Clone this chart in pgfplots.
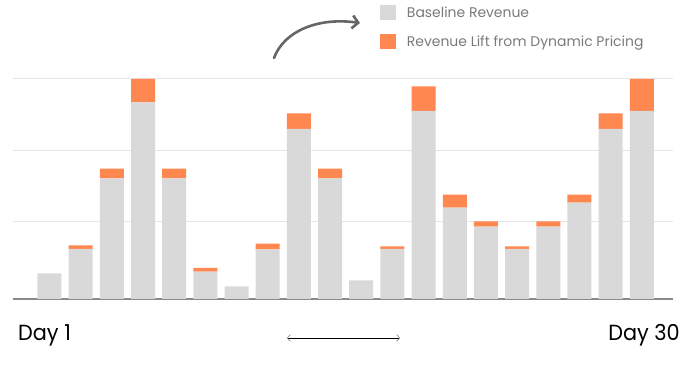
\documentclass[border=0pt]{standalone}
\usepackage{pgfplots}
\pgfplotsset{compat=1.18}
\usepackage{pgfplotstable}
\usepackage{fontspec}
\setmainfont{Poppins}
\usetikzlibrary{arrows.meta}
\definecolor{basegray}{HTML}{D9D9D9}
\definecolor{liftorange}{HTML}{FF8750}
\definecolor{gridgray}{HTML}{E6E6E6}
\definecolor{axisgray}{HTML}{8A8A8A}
\definecolor{legtext}{HTML}{7A7A7A}
\definecolor{arrowgray}{HTML}{666666}

\pgfplotstableread{
x base lift
0 25.7 0
1 50.0 3.7
2 120.7 9.6
3 196.7 23.3
4 120.7 9.6
5 27.3 3.7
6 12.7 0
7 49.7 5.6
8 170.0 15.7
9 120.7 9.6
10 18.7 0
11 50.0 2.7
12 188.0 24.7
13 91.3 13.0
14 72.3 5.4
15 50.0 2.7
16 72.3 5.4
17 96.3 8.0
18 170.0 15.7
19 188.0 32.0
}\revdata

\begin{document}
\begin{tikzpicture}
\path[use as bounding box] (0,0) rectangle (695bp,383bp);
\begin{axis}[
  at={(13bp,84bp)}, anchor=south west,
  scale only axis, width=660bp, height=220bp,
  xmin=-1.17, xmax=20, ymin=0, ymax=220,
  ybar stacked, bar width=0.77,
  axis x line*=bottom, axis y line*=left,
  y axis line style={draw=none},
  x axis line style={draw=axisgray, line width=1.2bp, -},
  xtick=\empty, ytick={77,148,220}, yticklabels={},
  major tick length=0pt,
  ymajorgrids, grid style={draw=gridgray, line width=1bp},
  clip=false,
  legend image code/.code={\fill[#1] (0bp,-7bp) rectangle (16bp,8bp);},
  legend style={at={(0.556,1.336)}, anchor=north west, draw=none, fill=none,
    inner sep=0pt, outer sep=0pt, row sep=13bp,
    /tikz/every odd column/.style={column sep=9bp},
    font=\fontsize{14}{16}\selectfont, text=legtext,
    cells={anchor=west}},
]
\addplot[fill=basegray, draw=none] table[x=x, y=base] {\revdata};
\addlegendentry{Baseline Revenue}
\addplot[fill=liftorange, draw=none] table[x=x, y=lift] {\revdata};
\addlegendentry{Revenue Lift from Dynamic Pricing}
\end{axis}
% curved arrow
\draw[arrowgray, line width=2.6bp, line cap=round, -{Straight Barb[length=6bp, width=13bp, line width=2.6bp]}]
  (274bp,325bp) .. controls (284bp,352bp) and (318bp,366bp) .. (360bp,360bp);
% double arrow
\draw[black, line width=0.8bp, {Straight Barb[length=3bp, width=7bp, line width=0.6bp, color=gray]}-{Straight Barb[length=3bp, width=7bp, line width=0.6bp, color=gray]}]
  (287bp,45bp) -- (400bp,45bp);
\node[anchor=base west, inner sep=0pt, font=\fontsize{22}{26}\selectfont, xscale=0.95] at (18bp,42bp) {Day 1};
\node[anchor=base east, inner sep=0pt, font=\fontsize{22}{26}\selectfont, xscale=0.95] at (680bp,42bp) {Day 30};
\end{tikzpicture}
\end{document}
